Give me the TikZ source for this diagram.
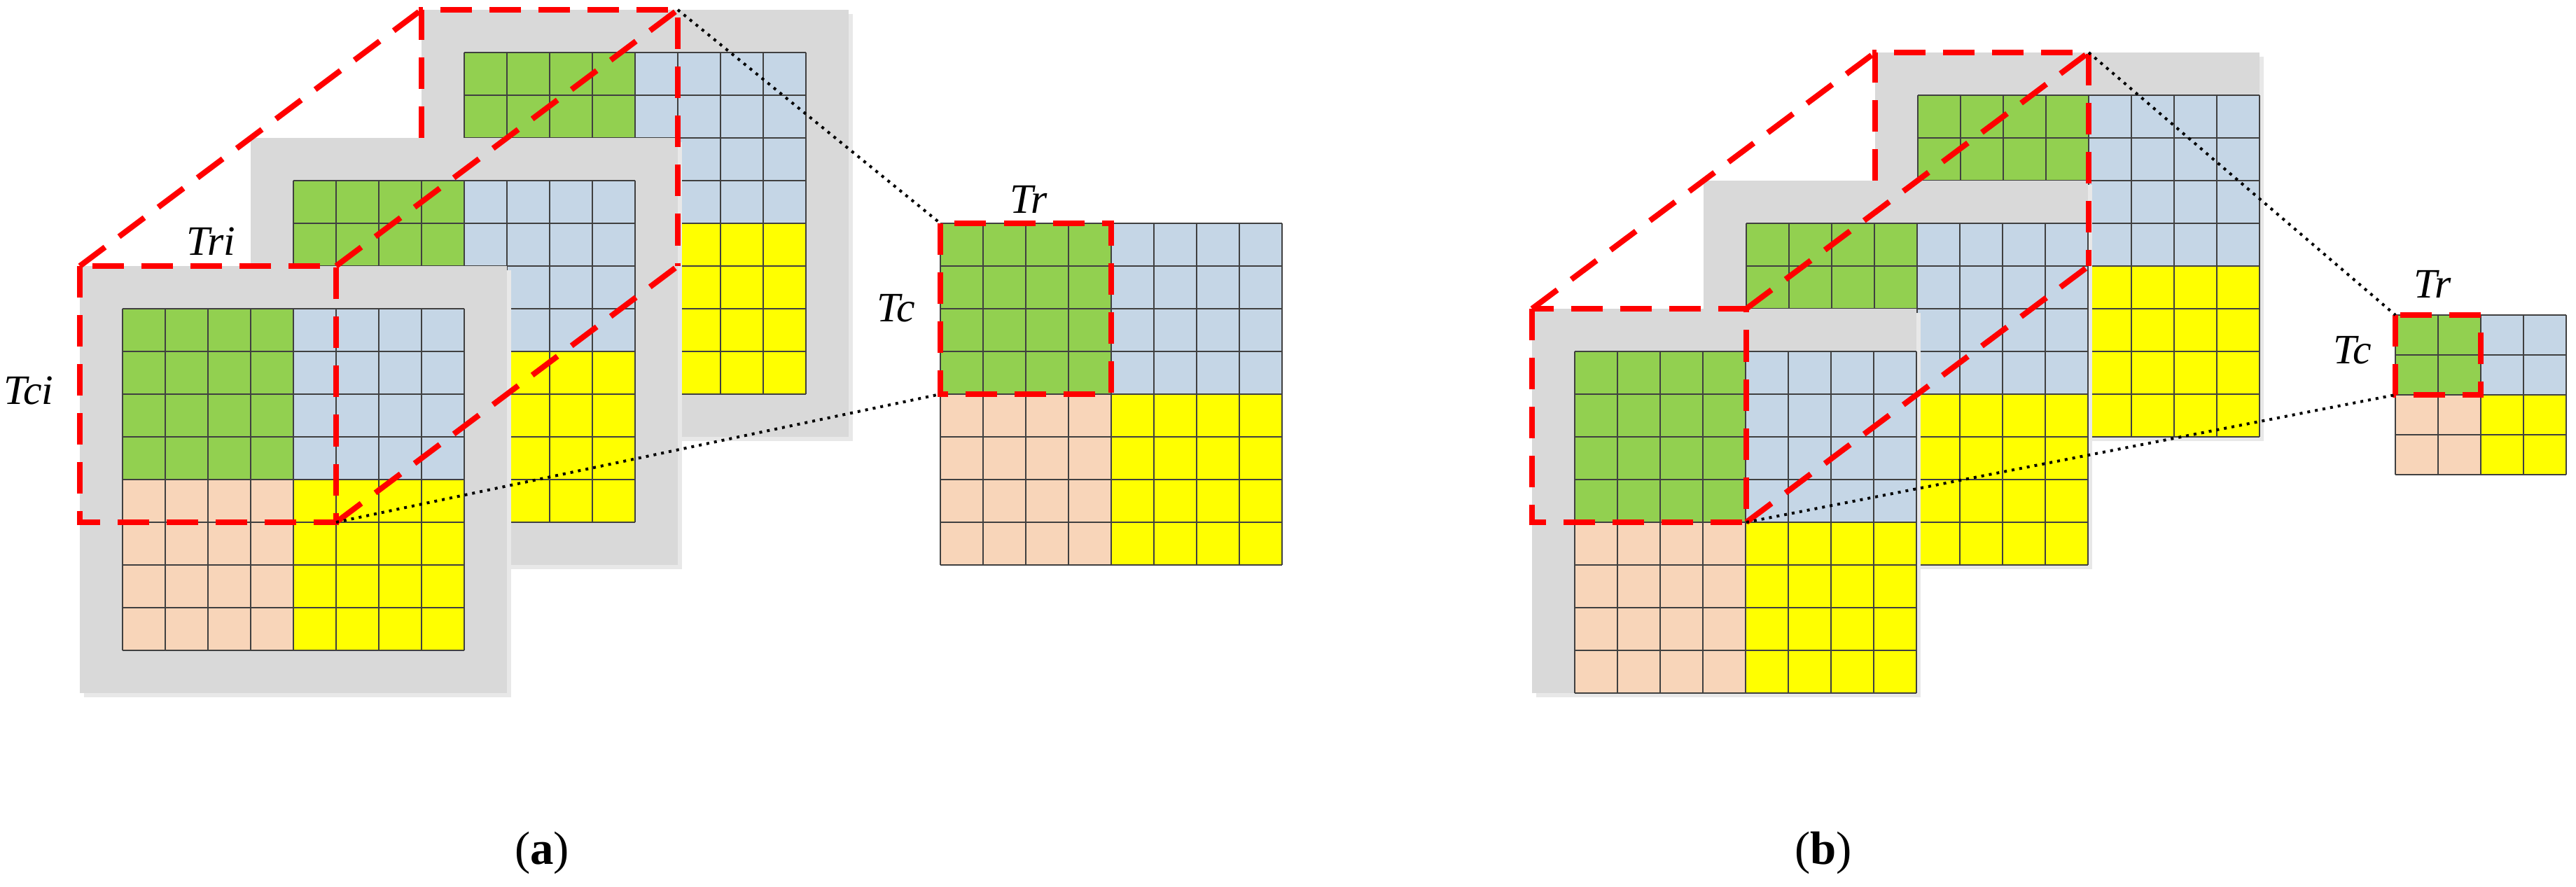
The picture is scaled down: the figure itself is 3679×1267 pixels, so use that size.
\documentclass[tikz,border=0pt]{standalone}
\usepackage{fontspec}
\setmainfont{Liberation Serif}
\definecolor{cg}{HTML}{92D050}
\definecolor{cb}{HTML}{C5D6E6}
\definecolor{cp}{HTML}{F8D5B9}
\definecolor{cy}{HTML}{FFFF00}
\definecolor{gr}{HTML}{D9D9D9}
\definecolor{sh}{HTML}{E8E8E8}
\definecolor{rd}{HTML}{FF0000}
\newcommand\mygrid[5]{%
 \begin{scope}[shift={(#1,#2)},x=#4*0.01cm,y=-#5*0.01cm]
  \fill[cg] (0,0) rectangle (#3/2,#3/2);
  \fill[cb] (#3/2,0) rectangle (#3,#3/2);
  \fill[cp] (0,#3/2) rectangle (#3/2,#3);
  \fill[cy] (#3/2,#3/2) rectangle (#3,#3);
  \foreach \i in {0,...,#3}{\draw[gline] (\i,0)--(\i,#3); \draw[gline] (0,\i)--(#3,\i);}
 \end{scope}}
\newcommand\mylayer[3]{%
 \fill[sh] ({#1-55},{#2-55}) rectangle ({#1+494+#3},{#2+494+#3});
 \fill[gr] ({#1-61},{#2-61}) rectangle ({#1+488+#3},{#2+488+#3});
 \mygrid{#1}{#2}{8}{61}{61}}
\begin{document}
\begin{tikzpicture}[x=0.01cm,y=-0.01cm,
 gline/.style={draw=black!75,line width=0.4pt},
 reddash/.style={draw=rd,line width=0.08cm,dash pattern=on 0.45cm off 0.25cm},
 dotl/.style={draw=black,line width=0.04cm,dotted},
 lab/.style={font=\fontsize{17}{20}\selectfont\itshape},
 captxt/.style={font=\fontsize{19}{22}\selectfont}]
\useasboundingbox (0,0) rectangle (3679,1267);
% panel a
\mylayer{663}{75}{61}
\mylayer{419}{258}{61}
\mylayer{175}{441}{61}
\mygrid{1343}{319}{8}{61}{61}
\coordinate (aF1) at (114,380); \coordinate (aF2) at (480,380);
\coordinate (aF3) at (480,746); \coordinate (aF4) at (114,746);
\coordinate (aB1) at (602,14); \coordinate (aB2) at (968,14);
\coordinate (aB3) at (968,380); \coordinate (aB4) at (602,197);
\coordinate (aR1) at (1343,319); \coordinate (aR3) at (1587,563); \coordinate (aR4) at (1343,563);
\draw[reddash] (aF1) rectangle (aF3);
\draw[reddash] (aB4)--(aB1)--(aB2)--(aB3);
\draw[reddash] (aF1)--(aB1); \draw[reddash] (aF2)--(aB2); \draw[reddash] (aF3)--(aB3);
\draw[reddash] (aR1) rectangle (aR3);
\draw[dotl] (aB2)--(aR1); \draw[dotl] (aF3)--(aR4);
\node[lab] (tri) at (301,345) {Tri};
\node[lab] (tci) at (41,558) {Tci};
\node[lab] (tra) at (1469,285) {Tr};
\node[lab] (tca) at (1280,440) {Tc};
\node[captxt] (ca) at (774,1218) {(\textbf{a})};
% panel b
\mylayer{2739}{136}{0}
\mylayer{2494}{319}{0}
\mylayer{2249}{502}{0}
\mygrid{3421}{450}{4}{61}{57}
\coordinate (bF1) at (2188,441); \coordinate (bF2) at (2494,441);
\coordinate (bF3) at (2494,746);
\coordinate (bB1) at (2678,75); \coordinate (bB2) at (2983,75);
\coordinate (bB3) at (2983,380); \coordinate (bB4) at (2678,258);
\coordinate (bR1) at (3421,450); \coordinate (bR3) at (3543,564); \coordinate (bR4) at (3421,564);
\draw[reddash] (bF1) rectangle (bF3);
\draw[reddash] (bB4)--(bB1)--(bB2)--(bB3);
\draw[reddash] (bF1)--(bB1); \draw[reddash] (bF2)--(bB2); \draw[reddash] (bF3)--(bB3);
\draw[reddash] (bR1) rectangle (bR3);
\draw[dotl] (bB2)--(bR1); \draw[dotl] (bF3)--(bR4);
\node[lab] (trb) at (3474,406) {Tr};
\node[lab] (tcb) at (3360,500) {Tc};
\node[captxt] (cb) at (2604,1218) {(\textbf{b})};
\end{tikzpicture}
\end{document}
